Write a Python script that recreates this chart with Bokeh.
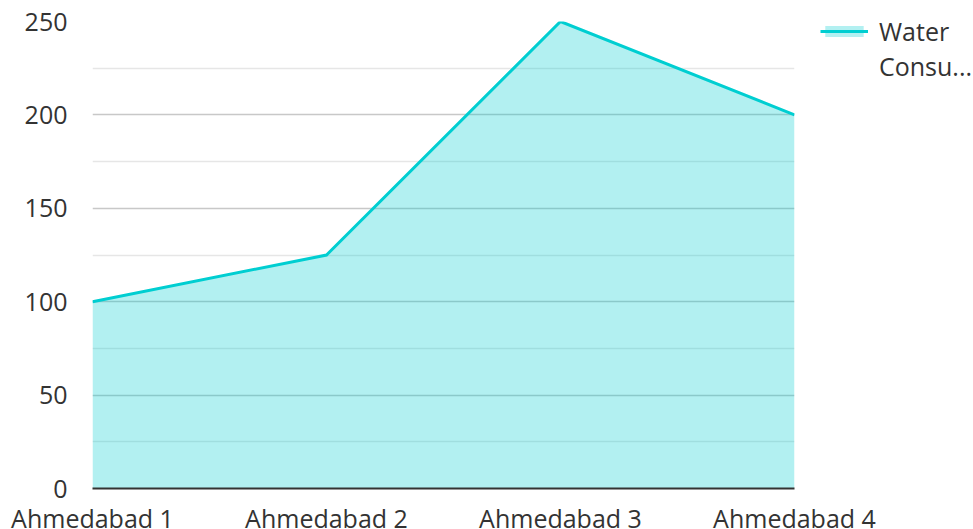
from bokeh.plotting import figure
from bokeh.models import FixedTicker, Range1d, Legend, LegendItem
from bokeh.embed import file_html
from bokeh.resources import INLINE

categories = ["Ahmedabad 1", "Ahmedabad 2", "Ahmedabad 3", "Ahmedabad 4"]
water = [100, 125, 250, 200]
y_ticks = [0, 50, 100, 150, 200, 250]
series_name_lines = ["Water", "Consu..."]

xs = list(range(len(categories)))

p = figure(frame_width=702, frame_height=467, output_backend="svg",
           toolbar_location=None, x_range=Range1d(0, len(categories) - 1),
           y_range=Range1d(0, 250), min_border_left=92, min_border_right=170,
           min_border_top=21, min_border_bottom=41)
p.outline_line_color = None
p.background_fill_color = "white"

area = p.varea(x=xs, y1=0, y2=water, fill_color="#00CED1", fill_alpha=0.3)
line = p.line(x=xs, y=water, line_color="#00CED1", line_width=3,
              line_join="miter")
# invisible renderer used only to carry the wrapped second legend line
spacer = p.line(x=[], y=[], line_alpha=0)

font = "Open Sans"
# x axis
p.xaxis.ticker = FixedTicker(ticks=xs)
p.xaxis.major_label_overrides = {i: c for i, c in enumerate(categories)}
p.xaxis.axis_line_color = "#333333"
p.xaxis.axis_line_width = 2
p.xaxis.major_tick_line_color = None
p.xaxis.minor_tick_line_color = None
p.xaxis.major_label_text_font = font
p.xaxis.major_label_text_font_size = "25px"
p.xaxis.major_label_text_color = "#333333"
p.xaxis.major_label_standoff = 6
p.xgrid.grid_line_color = None

# y axis
p.yaxis.ticker = FixedTicker(ticks=y_ticks, minor_ticks=[25, 75, 125, 175, 225])
p.yaxis.axis_line_color = None
p.yaxis.major_tick_line_color = None
p.yaxis.minor_tick_line_color = None
p.yaxis.major_label_text_font = font
p.yaxis.major_label_text_font_size = "25px"
p.yaxis.major_label_text_color = "#333333"
p.yaxis.major_label_standoff = 19
p.ygrid.grid_line_color = "#c8c8c8"
p.ygrid.grid_line_width = 1.5
p.ygrid.minor_grid_line_color = "#e6e6e6"
p.ygrid.minor_grid_line_width = 1.5

legend = Legend(items=[LegendItem(label=series_name_lines[0], renderers=[area, line]),
                       LegendItem(label=series_name_lines[1], renderers=[spacer])],
                location=(26, 405), border_line_color=None,
                background_fill_alpha=0, padding=0, margin=0, spacing=1,
                glyph_width=48, glyph_height=14, label_standoff=11,
                label_text_font=font, label_text_font_size="25px",
                label_text_color="#333333")
p.add_layout(legend, "right")

open("out.html", "w").write(file_html(p, INLINE))
